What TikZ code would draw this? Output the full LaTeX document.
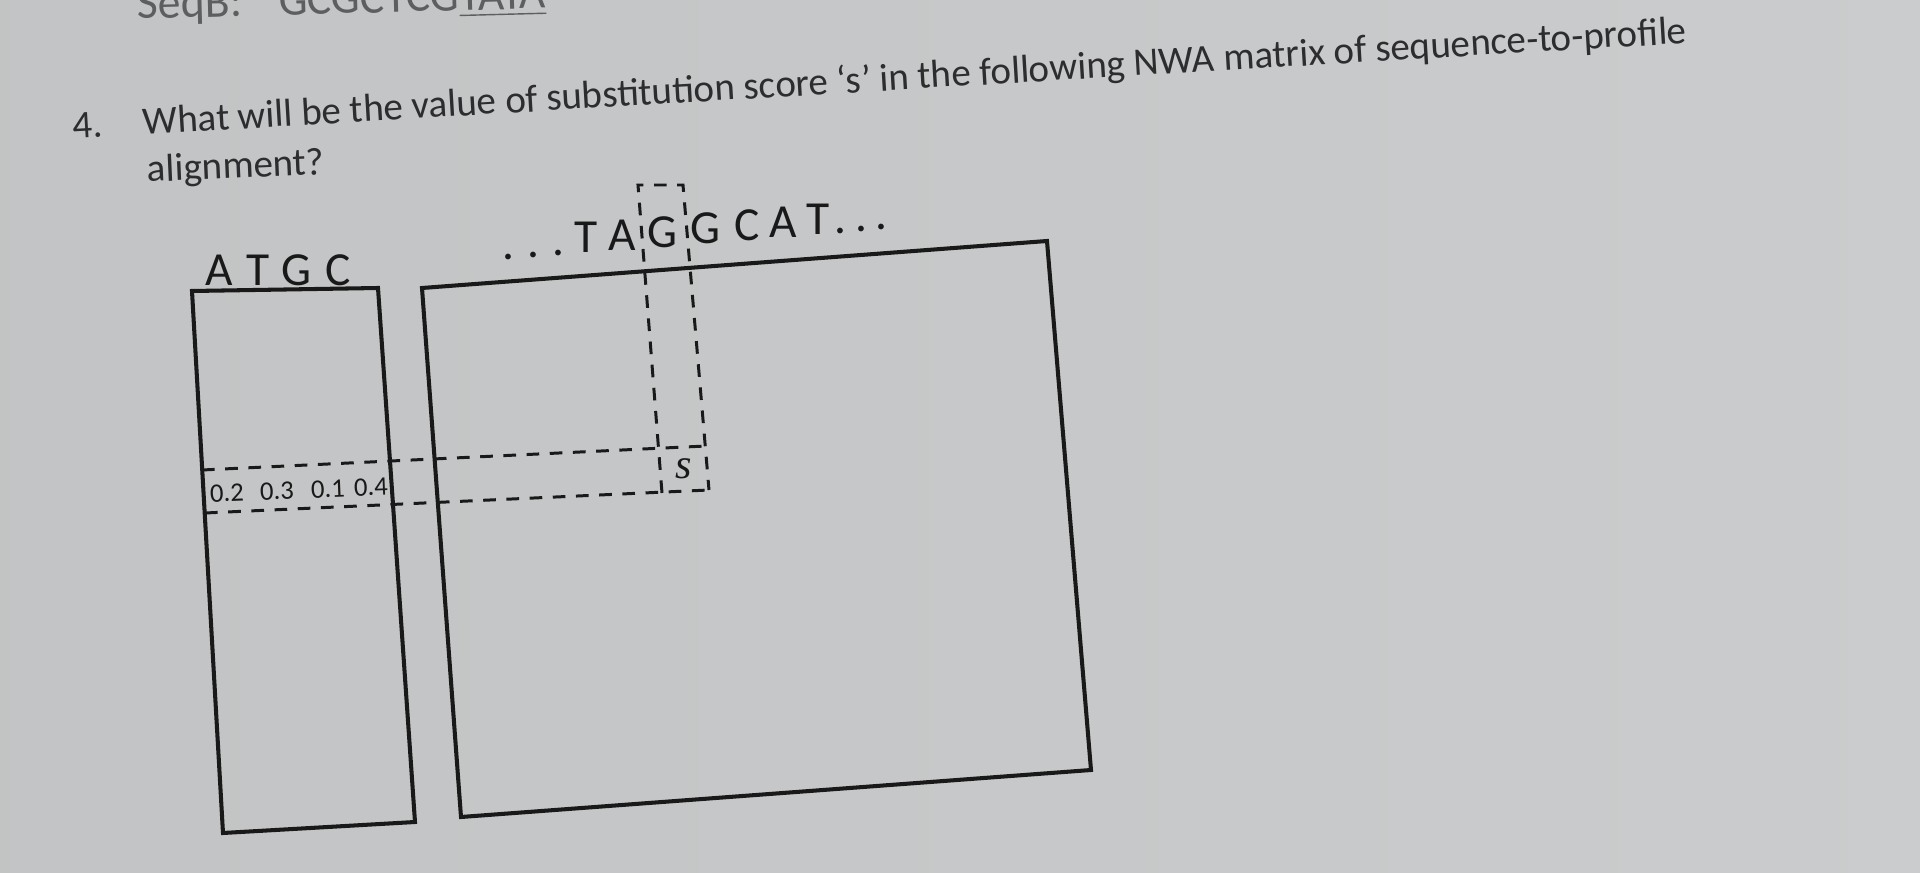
\documentclass[tikz,border=0pt]{standalone}
\usepackage{fontspec}
\setmainfont{Carlito}
\newfontfamily\scorefont{Liberation Serif}
\usetikzlibrary{positioning}
\definecolor{paper}{RGB}{206,208,209}
\definecolor{ink}{RGB}{25,25,25}
\definecolor{print}{RGB}{45,45,47}
\tikzset{
  boxline/.style={draw=ink,line width=1.15pt,line join=miter},
  bandline/.style={draw=ink,line width=0.85pt,dash pattern=on 3.6pt off 3pt},
  qtext/.style={text=print,font=\fontsize{11.1}{13}\selectfont,inner sep=0pt,anchor=base west},
  seqletter/.style={text=ink,font=\fontsize{13.5}{15}\selectfont,inner sep=0pt,anchor=base},
  prob/.style={text=ink,font=\fontsize{7.6}{9}\selectfont,inner sep=0pt,rotate=2.3},
}

\begin{document}
\begin{tikzpicture}[x=0.01cm,y=-0.01cm]
\useasboundingbox (0,0) rectangle (1920,873);
\shade[left color=paper!94!black,middle color=paper,right color=paper!98!black] (0,0) rectangle (1920,873);

% header line, cut by the page edge
\node[qtext,font=\fontsize{13}{15}\selectfont,text=print!70!paper,rotate=1.5] (seqb) at (137,19) {SeqB:\hspace{0.8em}GCGCTCG\underline{TATA}};

% question
\node[qtext,rotate=3.4] (q1) at (73,139) {\makebox[0.7cm][l]{4.}What will be the value of substitution score ‘s’ in the following NWA matrix of sequence-to-profile};
\node[qtext,rotate=2.5] (q2) at (147,182) {alignment?};

% profile box
\coordinate (pa) at (192,291);
\coordinate (pb) at (223,833);
\coordinate (pc) at (415,822);
\coordinate (pd) at (378,288);
\draw[boxline] (pa) -- (pb) -- (pc) -- (pd) -- cycle;
\foreach \c/\x in {A/219,T/258,G/296,C/338}
  \node[seqletter] (prof\c) at (\x,286) {\c};

% NWA matrix
\coordinate (ma) at (422,288);
\coordinate (mb) at (461,817);
\coordinate (mc) at (1091,770);
\coordinate (md) at (1047,241);
\draw[boxline] (ma) -- (mb) -- (mc) -- (md) -- cycle;
\foreach \c/\x [count=\i, evaluate=\x as \y using 253-0.078*(\x-586)] in
  {./508,./533,./558,T/586,A/622,G/662,G/705,C/747,A/783,T/818,./840,./861,./881}
  \node[seqletter] (seq\i) at (\x,\y) {\c};

% row and column of the cell
\coordinate (rowA) at (202,470);
\coordinate (rowB) at (205,513);
\coordinate (colA) at (638,185);
\coordinate (colB) at (683,185);
\coordinate (cellA) at (662,493);
\coordinate (cellB) at (709,490);
\coordinate (cellC) at (706,446);
\draw[bandline] (rowA) -- (cellC);
\draw[bandline] (rowB) -- (cellB);
\draw[bandline] (cellA) -- (colA) -- (colB) -- (cellB);

\foreach \v/\x/\y in {0.2/227/493,0.3/277/491,0.1/328/489,0.4/371/487}
  \node[prob] (p\x) at (\x,\y) {\v};
\node[text=ink,font=\scorefont\fontsize{12}{14}\selectfont\itshape,inner sep=0pt] (s) at (684,469) {s};
\end{tikzpicture}
\end{document}
